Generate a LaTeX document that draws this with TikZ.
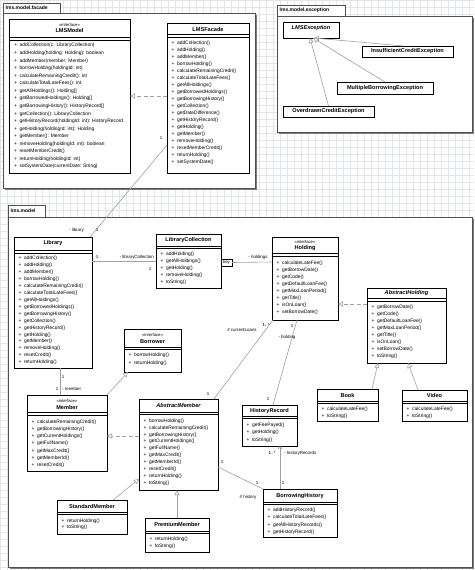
\documentclass[tikz,border=0pt]{standalone}
\usepackage{fontspec}
\setmainfont{Liberation Sans}
\usetikzlibrary{arrows.meta,calc}
\definecolor{linec}{RGB}{160,160,160}
\definecolor{shadowc}{RGB}{125,125,125}
\definecolor{gridc}{RGB}{226,229,236}
\definecolor{pkgc}{RGB}{80,80,80}
\tikzset{
 classbox/.style={draw=black, line width=0.6pt, fill=white, inner sep=0pt, outer sep=0pt, rectangle},
 sepline/.style={draw=black, line width=0.5pt},
 meth/.style={font=\fontsize{4.9}{6}\selectfont, anchor=west, inner sep=0pt},
 ttl/.style={font=\bfseries\fontsize{5.6}{6.5}\selectfont, inner sep=0pt},
 ittl/.style={font=\bfseries\itshape\fontsize{5.6}{6.5}\selectfont, inner sep=0pt},
 stereo/.style={font=\fontsize{4.2}{5}\selectfont, inner sep=0pt},
 lbl/.style={font=\fontsize{4.4}{5}\selectfont, inner sep=0pt},
 pkgttl/.style={font=\bfseries\fontsize{5}{6}\selectfont, inner sep=0pt, anchor=west},
 conn/.style={draw=linec, line width=0.6pt},
 gen/.style={conn, -{Triangle[open, length=5pt, width=5pt, fill=white]}},
 real/.style={gen, dash pattern=on 4pt off 2.5pt},
 nav/.style={conn, -{Straight Barb[length=2.5pt, width=4pt]}},
 pkgbox/.style={draw=pkgc, line width=0.6pt, fill=white, inner sep=0pt, outer sep=0pt, rectangle},
}
% class box: name, x, y, w, h, sep1 y, sep2 y
\newcommand\umlclass[7]{%
 \fill[shadowc] (#2+1.2,#3+1.2) rectangle (#2+#4+1.2,#3+#5+1.2);
 \node[classbox, minimum width=#4pt, minimum height=#5pt, anchor=north west] (#1) at (#2,#3) {};
 \draw[sepline] (#2,#6) -- (#2+#4,#6);
 \draw[sepline] (#2,#7) -- (#2+#4,#7);
}
\newcommand\simplebox[5]{%
 \fill[shadowc] (#2+1.2,#3+1.2) rectangle (#2+#4+1.2,#3+#5+1.2);
 \node[classbox, minimum width=#4pt, minimum height=#5pt, anchor=north west] (#1) at (#2,#3) {};
}
% method list: x, y0, dy, list
\newcommand\mlist[4]{%
 \foreach \m [count=\i from 0] in {#4} {\node[meth] at (#1, #2+\i*#3) {+\hspace{2.5pt}\m};}
}
% package: name, x, y, tab w, tab h, body w, body h, label
\newcommand\umlpkg[8]{%
 \fill[shadowc] (#2+2,#3+#5+2) rectangle (#2+#6+2,#3+#5+#7+2);
 \node[pkgbox, minimum width=#4pt, minimum height=#5pt, anchor=north west] (#1tab) at (#2,#3) {};
 \node[pkgbox, minimum width=#6pt, minimum height=#7pt, anchor=north west] (#1) at (#2,#3+#5) {};
 \node[pkgttl] at (#2+2.5, #3+#5/2) {#8};
}
\begin{document}
\begin{tikzpicture}[x=1pt,y=-1pt]
\useasboundingbox (0,0) rectangle (474,570);
\fill[white] (0,0) rectangle (474,570);
\foreach \g in {0,7,...,474} \draw[gridc, line width=0.3pt] (\g,0) -- (\g,570);
\foreach \g in {0,7,...,570} \draw[gridc, line width=0.3pt] (0,\g) -- (474,\g);

% packages
\umlpkg{pkgf}{3}{3}{57}{10}{252}{175}{lms.model.facade}
\umlpkg{pkge}{277}{5}{68}{11}{195}{116}{lms.model.exception}
\umlpkg{pkgm}{8}{205}{37}{12}{464}{350}{lms.model}

% facade
\umlclass{lmsm}{9}{19}{121}{154}{37}{40}
\node[stereo] at (9+121/2,24.5) {«interface»};
\node[ttl] at (9+121/2,30.5) {LMSModel};
\mlist{14}{45.7}{7.56}{{addCollection(c: LibraryCollection)},{addHolding(holding: Holding): boolean},{addMember(member: Member)},{borrowHolding(holdingId: int)},{calculateRemainingCredit(): int},{calculateTotalLateFees(): int},{getAllHoldings(): Holding[]},{getBorrowedHoldings(): Holding[]},{getBorrowingHistory(): HistoryRecord[]},{getCollection(): LibraryCollection},{getHistoryRecord(holdingId: int): HistoryRecord},{getHolding(holdingId: int): Holding},{getMember(): Member},{removeHolding(holdingId: int): boolean},{resetMemberCredit()},{returnHolding(holdingId: int)},{setSystemDate(currentDate: String)}}

\umlclass{lmsf}{167}{23}{82}{150}{34.3}{37.3}
\node[ttl] at (167+41,29) {LMSFacade};
\mlist{171.5}{43.3}{7}{addCollection(),addHolding(),addMember(),borrowHolding(),calculateRemainingCredit(),calculateTotalLateFees(),getAllHoldings(),getBorrowedHoldings(),getBorrowingHistory(),getCollection(),getDateDifference(),getHistoryRecord(),getHolding(),getMember(),removeHolding(),resetMemberCredit(),returnHolding(),setSystemDate()}

% exceptions
\simplebox{exc}{283}{22}{56}{16}
\node[ittl] at (311,28) {LMSException};
\simplebox{ins}{362}{46}{91}{11}
\node[ttl] at (407.5,51.5) {InsufficientCreditException};
\simplebox{mul}{337}{82}{96}{12}
\node[ttl] at (385,88) {MultipleBorrowingException};
\simplebox{ovr}{283}{106}{91}{11}
\node[ttl] at (328.5,111.5) {OverdrawnCreditException};

% lms.model
\umlclass{lib}{14}{237}{78}{131}{250.5}{253}
\node[ttl] at (53,243.5) {Library};
\mlist{18.5}{258.3}{6.95}{addCollection(),addHolding(),addMember(),borrowHolding(),calculateRemainingCredit(),calculateTotalLateFees(),getAllHoldings(),getBorrowedHoldings(),getBorrowingHistory(),getCollection(),getHistoryRecord(),getHolding(),getMember(),removeHolding(),resetCredit(),returnHolding()}

\umlclass{lcol}{156}{234}{65}{54}{246}{248.5}
\node[ttl] at (188.5,240) {LibraryCollection};
\mlist{160.5}{254}{7}{addHolding(),getAllHoldings(),getHolding(),removeHolding(),toString()}
\node[classbox, minimum width=11pt, minimum height=7pt, anchor=north west, font=\fontsize{4.4}{5}\selectfont] (key) at (221,259) {key};

\umlclass{hold}{272}{237}{66}{83}{253}{256}
\node[stereo] at (305,241.5) {«interface»};
\node[ttl] at (305,248) {Holding};
\mlist{276.5}{263}{7}{calculateLateFee(),getBorrowDate(),getCode(),getDefaultLoanFee(),getMaxLoanPeriod(),getTitle(),isOnLoan(),setBorrowDate()}

\umlclass{ah}{367}{288}{79}{75}{298}{301}
\node[ittl] at (406.5,293.5) {AbstractHolding};
\mlist{371.5}{307}{7.1}{getBorrowDate(),getCode(),getDefaultLoanFee(),getMaxLoanPeriod(),getTitle(),isOnLoan(),setBorrowDate(),toString()}

\umlclass{book}{317}{389}{61}{32}{401}{403}
\node[ttl] at (347.5,395) {Book};
\mlist{321.5}{409}{7}{calculateLateFee(),toString()}

\umlclass{video}{402}{390}{65}{31}{401}{403}
\node[ttl] at (434.5,395.5) {Video};
\mlist{406.5}{409}{7}{calculateLateFee(),toString()}

\umlclass{borr}{124}{329}{57}{43}{347}{349}
\node[stereo] at (152.5,334.5) {«interface»};
\node[ttl] at (152.5,342) {Borrower};
\mlist{128.5}{355.5}{7.5}{borrowHolding(),returnHolding()}

\umlclass{mem}{27}{395}{80}{76}{412}{415}
\node[stereo] at (67,400.5) {«interface»};
\node[ttl] at (67,407) {Member};
\mlist{31.5}{422}{7.2}{calculateRemainingCredit(),getBorrowingHistory(),getCurrentHoldings(),getFullName(),getMaxCredit(),getMemberId(),resetCredit()}

\umlclass{am}{139}{399}{79}{91}{412}{414.5}
\node[ittl] at (178.5,405) {AbstractMember};
\mlist{143.5}{421}{6.9}{borrowHolding(),calculateRemainingCredit(),getBorrowingHistory(),getCurrentHoldings(),getFullName(),getMaxCredit(),getMemberId(),resetCredit(),returnHolding(),toString()}

\umlclass{hr}{242}{405}{55}{41}{416}{418.5}
\node[ttl] at (269.5,411) {HistoryRecord};
\mlist{246.5}{425}{7.5}{getFeePayed(),getHolding(),toString()}

\umlclass{bh}{263}{489}{74}{48}{502}{504.5}
\node[ttl] at (300,496) {BorrowingHistory};
\mlist{267.5}{510.5}{7.2}{addHistoryRecord(),calculateTotalLateFees(),getAllHistoryRecords(),getHistoryRecord()}

\umlclass{sm}{57}{500}{70}{34}{512}{514.5}
\node[ttl] at (92,506) {StandardMember};
\mlist{61.5}{521}{6.7}{returnHolding(),toString()}

\umlclass{pm}{145}{518}{64}{34}{531}{533}
\node[ttl] at (177,524.5) {PremiumMember};
\mlist{149.5}{539.5}{6.7}{returnHolding(),toString()}

% connectors
\draw[real] (lmsm.east -| lmsf.west) -- (lmsm.east);
\draw[conn] ([yshift=-122pt]lmsf.north west) -- ([xshift=-2pt]lib.north east);
\node[lbl] at (161,138) {1};
\node[lbl] at (97,229.5) {1};
\node[lbl, anchor=east] at (84,230) {- library};

\draw[gen] ([xshift=-4pt]ins.north) -- ([xshift=3pt]exc.south);
\draw[gen] (mul.north) -- ([xshift=2pt]exc.south);
\draw[gen] (ovr.north) -- ([xshift=-1pt]exc.south);

\draw[conn] ([yshift=-24pt]lib.north east) -- ([yshift=-27pt]lcol.north west);
\node[lbl] at (97,257) {1};
\node[lbl, anchor=east] at (154,257) {- libraryCollection};
\node[lbl] at (150,268.5) {1};

\draw[conn] (key.east) -- ([yshift=-25pt]hold.north west);
\node[lbl] at (258,257) {- holdings};

\draw[real] ([yshift=-16pt]ah.north west) -- ([yshift=-67pt]hold.north east);
\draw[gen] ([xshift=-6pt]book.north east) -- ([xshift=11pt]ah.south west);
\draw[gen] ([xshift=16pt]video.north west) -- ([xshift=41pt]ah.south west);

\draw[gen] (mem.north east) -- ([xshift=4pt]borr.south west);
\draw[conn] ([xshift=46pt]lib.south west) -- ([xshift=33pt]mem.north west);
\node[lbl] at (63,376.5) {1};
\node[lbl] at (57,389) {1};
\node[lbl, anchor=west] at (62,389) {- member};

\draw[real] ([yshift=-37pt]am.north west) -- ([yshift=-41pt]mem.north east);
\draw[gen] ([xshift=-14pt]sm.north east) -- ([yshift=-80pt]am.north west);
\draw[gen] (pm.north) -- (pm.north |- am.south);

\draw[conn] ([xshift=-4pt]am.north east) -- ([xshift=1pt]hold.south west);
\node[lbl] at (208,393.5) {1};
\node[lbl] at (266,325) {1..*};
\node[lbl] at (242,330) {\# currentLoans};

\draw[conn] ([xshift=31pt]hr.north west) -- ([xshift=25pt]hold.south west);
\node[lbl] at (292,326) {1};
\node[lbl] at (287,337) {- holding};
\node[lbl] at (268,399) {1};

\draw[nav] ([xshift=17pt]bh.north west) -- ([xshift=38pt]hr.south west);
\node[lbl] at (272,453) {1..*};
\node[lbl, anchor=west] at (284,453) {- historyRecords};
\node[lbl] at (283,483) {1};

\draw[conn] ([yshift=-68pt]am.north east) -- (bh.north west);
\node[lbl] at (222,462) {1};
\node[lbl] at (257,483) {1};
\node[lbl] at (248,497) {\# history};
\end{tikzpicture}
\end{document}
